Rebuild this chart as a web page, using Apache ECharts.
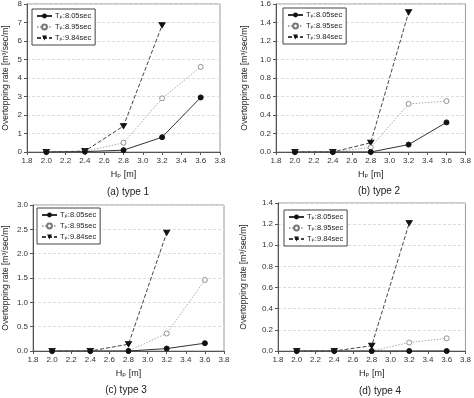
<!DOCTYPE html>
<html lang="en">
<head>
    <meta charset="UTF-8">
    <title>Overtopping rate</title>
    <script type="text/javascript" src="https://cdn.jsdelivr.net/npm/echarts@6/dist/echarts.min.js"></script>
    <style>
        html, body { margin: 0; padding: 0; background: #fff; }
        #chart { width: 474px; height: 398px; }
    </style>
</head>
<body>
<div id="chart"></div>
<script>
    // wave height H_p [m]
    var hp = [2.0, 2.4, 2.8, 3.2, 3.6];
    var seriesNames = ['Tₚ:8.05sec', 'Tₚ:8.95sec', 'Tₚ:9.84sec'];
    var panelTitles = ['(a) type 1', '(b) type 2', '(c) type 3', '(d) type 4'];

    // overtopping rate per type, per wave period
    var type1_805 = [0, 0.02, 0.1, 0.8, 2.95];
    var type1_895 = [0, 0.03, 0.5, 2.9, 4.6];
    var type1_984 = [0, 0.05, 1.4, 6.85, null];

    var type2_805 = [0, 0, 0, 0.08, 0.32];
    var type2_895 = [0, 0, 0.05, 0.52, 0.55];
    var type2_984 = [0, 0, 0.1, 1.51, null];

    var type3_805 = [0, 0, 0, 0.05, 0.16];
    var type3_895 = [0, 0, 0, 0.36, 1.46];
    var type3_984 = [0, 0, 0.14, 2.43, null];

    var type4_805 = [0, 0, 0, 0, 0];
    var type4_895 = [0, 0, 0, 0.08, 0.12];
    var type4_984 = [0, 0, 0.05, 1.21, null];

    // y axis ranges
    var yMax = [8, 1.6, 3.0, 1.4];
    var yStep = [1, 0.2, 0.5, 0.2];
    var yDigits = [0, 1, 1, 1];

    var allData = [
        [type1_805, type1_895, type1_984],
        [type2_805, type2_895, type2_984],
        [type3_805, type3_895, type3_984],
        [type4_805, type4_895, type4_984]
    ];

    var chart = echarts.init(document.getElementById('chart'));
    var font = 'Liberation Sans, Arial, DejaVu Sans, sans-serif';

    // plot areas in pixels
    var grids = [
        {left: 23, top: 3, width: 197, height: 149},
        {left: 276, top: 2, width: 196, height: 150},
        {left: 29, top: 205, width: 195, height: 146},
        {left: 278, top: 203, width: 194, height: 148}
    ];
    var yNameGap = [17, 27, 23, 30];
    var titlePos = [[123, 185], [374, 184], [121, 383], [375, 384]];
    var legendPos = [[32, 9], [283, 8], [37, 208], [284, 210]];

    var downTri = 'path://M0,0 L10,0 L5,9 Z';
    var styles = [
        {color: '#222', line: {color: '#333', width: 1, type: 'solid'}, symbol: 'circle', size: 5, item: {color: '#111', borderColor: '#111'}},
        {color: '#999', line: {color: '#aaa', width: 1, type: [1.5, 1.5]}, symbol: 'circle', size: 5, item: {color: '#fff', borderColor: '#777', borderWidth: 0.8}},
        {color: '#333', line: {color: '#444', width: 1, type: [4, 2]}, symbol: downTri, size: [6, 5], item: {color: '#111', borderColor: '#111'}}
    ];

    var option = {
        backgroundColor: '#fff',
        animation: false,
        textStyle: {fontFamily: font},
        title: [], grid: [], xAxis: [], yAxis: [], legend: [], series: []
    };

    for (var p = 0; p < 4; p++) {
        var g = grids[p];
        option.grid.push({
            left: g.left, top: g.top, width: g.width, height: g.height,
            show: true, borderColor: '#999', borderWidth: 1, backgroundColor: 'transparent'
        });
        option.title.push({
            text: panelTitles[p],
            left: titlePos[p][0], top: titlePos[p][1] - 3, textAlign: 'center',
            textStyle: {fontSize: 10, fontWeight: 'normal', color: '#222', fontFamily: font}
        });
        option.xAxis.push({
            type: 'value', gridIndex: p, min: 1.8, max: 3.8, interval: 0.2,
            name: 'Hₚ [m]', nameLocation: 'middle', nameGap: 18,
            nameTextStyle: {fontSize: 9, color: '#222'},
            axisLine: {show: true, onZero: false, lineStyle: {color: '#555'}},
            axisTick: {show: true, length: 3, lineStyle: {color: '#555'}},
            axisLabel: {fontSize: 8, color: '#333', margin: 5, formatter: function (v) { return v.toFixed(1); }},
            splitLine: {show: false}
        });
        (function (d) {
            option.yAxis.push({
                type: 'value', gridIndex: p, min: 0, max: yMax[p], interval: yStep[p],
                name: 'Overtopping rate [m³/sec/m]', nameLocation: 'middle', nameGap: yNameGap[p],
                nameTextStyle: {fontSize: 8.5, color: '#222'},
                axisLine: {show: true, lineStyle: {color: '#555'}},
                axisTick: {show: true, length: 3, lineStyle: {color: '#555'}},
                axisLabel: {fontSize: 8, color: '#333', margin: 5, formatter: function (v) { return v.toFixed(d); }},
                splitLine: {show: true, lineStyle: {color: '#ddd', type: [3, 2]}}
            });
        })(yDigits[p]);
        option.legend.push({
            orient: 'vertical',
            left: legendPos[p][0], top: legendPos[p][1],
            data: seriesNames,
            itemWidth: 15, itemHeight: 6, itemGap: 3,
            padding: [3, 4, 3, 4],
            borderColor: '#444', borderWidth: 1, backgroundColor: '#fff',
            selectedMode: false,
            textStyle: {fontSize: 7.5, color: '#222', padding: [0, 0, 0, -2]}
        });
        for (var s = 2; s >= 0; s--) {
            var vals = allData[p][s];
            var pts = [];
            for (var i = 0; i < hp.length; i++) {
                if (vals[i] !== null) pts.push([hp[i], vals[i]]);
            }
            var st = styles[s];
            option.series.push({
                name: seriesNames[s], type: 'line',
                xAxisIndex: p, yAxisIndex: p,
                data: pts,
                symbol: st.symbol, symbolSize: st.size, showAllSymbol: true,
                z: 10 - s,
                lineStyle: st.line,
                itemStyle: st.item,
                color: st.color
            });
        }
    }

    chart.setOption(option);
</script>
</body>
</html>
